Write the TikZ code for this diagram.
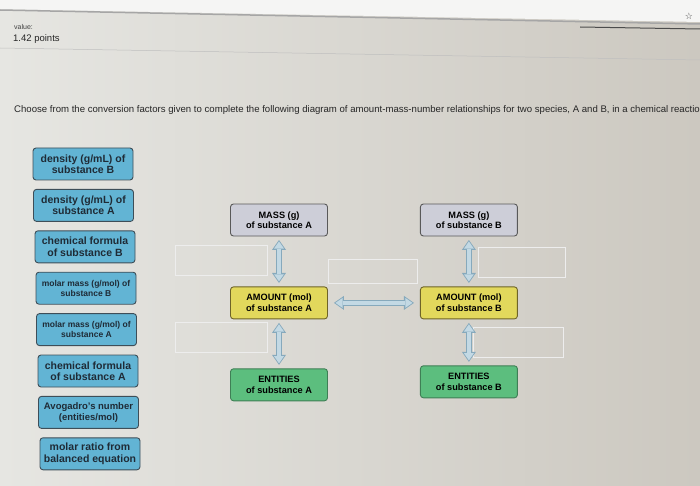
\documentclass[tikz,border=0pt]{standalone}
\usepackage{fontspec}
\setmainfont{Liberation Sans}
\newfontfamily\symfont{DejaVu Sans}
\usepackage{xcolor}
\usepackage{tikz}
\usetikzlibrary{positioning, arrows.meta}

\definecolor{pagebgl}{HTML}{E6E6E2}
\definecolor{pagebgr}{HTML}{CCC8C0}
\definecolor{tilefill}{HTML}{62B4D4}
\definecolor{tileedge}{HTML}{3E4E58}
\definecolor{tiletext}{HTML}{1F2B36}
\definecolor{massfill}{HTML}{CDCED8}
\definecolor{amtfill}{HTML}{E2D85C}
\definecolor{amtedge}{HTML}{6E6428}
\definecolor{entfill}{HTML}{5CBE7E}
\definecolor{entedge}{HTML}{3F7F55}
\definecolor{arrowfill}{HTML}{C3D9E4}
\definecolor{arrowedge}{HTML}{86A9BC}

\begin{document}
\begin{tikzpicture}[
    x=1pt, y=-1pt,
    node distance=8.5pt,
    tile/.style={draw=tileedge, line width=0.9pt, rectangle, rounded corners=3pt,
      fill=tilefill, text=tiletext, align=center, minimum width=100pt,
      minimum height=32pt, inner sep=1pt, font=\bfseries\fontsize{10.5}{11.5}\selectfont},
    smalltile/.style={tile, font=\bfseries\fontsize{8.5}{10}\selectfont},
    box/.style={draw=#1, line width=0.9pt, rectangle, rounded corners=3pt, align=center,
      minimum width=97pt, minimum height=32pt, inner sep=1pt,
      font=\bfseries\fontsize{9.2}{10.5}\selectfont},
    massbox/.style={box=black!65, fill=massfill},
    amtbox/.style={box=amtedge, fill=amtfill},
    entbox/.style={box=entedge, fill=entfill},
    dropzone/.style={draw=black!7, line width=0.5pt, minimum width=92pt,
      minimum height=30pt, inner sep=0pt},
    dblarrow/.style={draw=arrowedge, line width=6pt,
      {Triangle[length=10pt,width=14pt,line width=0pt]}-{Triangle[length=10pt,width=14pt,line width=0pt]},
      shorten <=#1, shorten >=#1,
      postaction={draw=arrowfill, line width=3.6pt,
        {Triangle[length=7.2pt,width=10pt,line width=0pt]}-{Triangle[length=7.2pt,width=10pt,line width=0pt]},
        shorten <=#1+1.5pt, shorten >=#1+1.5pt}},
    dblarrow/.default=3.5pt
]
\useasboundingbox (0,0) rectangle (700,486);
\shade[left color=pagebgl, right color=pagebgr] (0,0) rectangle (700,486);

% browser bar and header
\fill[white!60!pagebgl] (0,0) -- (700,0) -- (700,22) -- (0,9) -- cycle;
\draw[black!35, line width=1.5pt] (0,10) -- (700,24);
\draw[black!70, line width=1pt] (580,27) -- (700,29);
\node[font=\symfont\fontsize{9}{9}\selectfont, text=black!70] (star) at (689,16) {☆};
\node[font=\fontsize{7}{8}\selectfont, text=black!75, anchor=base west, inner sep=0pt] (valuelbl) at (14,30) {value:};
\node[font=\fontsize{9.5}{11}\selectfont, text=black!85, anchor=base west, inner sep=0pt] (points) at (13,42) {1.42 points};
\draw[black!25, line width=0.5pt] (0,48) -- (700,60);
\node[font=\fontsize{9.6}{11}\selectfont, text=black!85, anchor=base west, inner sep=0pt] (question) at (14,113)
  {Choose from the conversion factors given to complete the following diagram of amount-mass-number relationships for two species, A and B, in a chemical reactio};

% conversion factor tiles
\node[tile] (densB) at (83,164) {density (g/mL) of\\substance B};
\node[tile, below=of densB, xshift=0.5pt] (densA) {density (g/mL) of\\substance A};
\node[tile, below=of densA, xshift=1.5pt] (formB) {chemical formula\\of substance B};
\node[smalltile, below=of formB, xshift=1pt] (molmB) {molar mass (g/mol) of\\substance B};
\node[smalltile, below=of molmB, xshift=0.5pt] (molmA) {molar mass (g/mol) of\\substance A};
\node[tile, below=of molmA, xshift=1.5pt] (formA) {chemical formula\\of substance A};
\node[tile, below=of formA, xshift=0.5pt, font=\bfseries\fontsize{9.5}{11}\selectfont] (avog) {Avogadro's number\\(entities/mol)};
\node[tile, below=of avog, xshift=1.5pt] (ratio) {molar ratio from\\balanced equation};

% empty drop zones
\node[dropzone] (dropA1) at (221,260.5) {};
\node[dropzone, minimum width=89pt, minimum height=24pt] (dropAB) at (372.5,271) {};
\node[dropzone, minimum width=87pt] (dropB1) at (521.5,262) {};
\node[dropzone] (dropA2) at (221,337) {};
\node[dropzone, minimum width=90pt] (dropB2) at (518,342) {};

% diagram
\node[massbox] (massA) at (279,220) {MASS (g)\\of substance A};
\node[amtbox, below=50pt of massA] (amtA) {AMOUNT (mol)\\of substance A};
\node[entbox, below=49pt of amtA] (entA) {ENTITIES\\of substance A};
\node[massbox, right=92pt of massA] (massB) {MASS (g)\\of substance B};
\node[amtbox, right=92pt of amtA] (amtB) {AMOUNT (mol)\\of substance B};
\node[entbox, right=92pt of entA, yshift=3pt] (entB) {ENTITIES\\of substance B};

\draw[dblarrow] (massA) -- (amtA);
\draw[dblarrow] (amtA) -- (entA);
\draw[dblarrow] (massB) -- (amtB);
\draw[dblarrow] (amtB) -- (entB);
\draw[dblarrow=6pt] (amtA) -- (amtB);
\end{tikzpicture}
\end{document}
